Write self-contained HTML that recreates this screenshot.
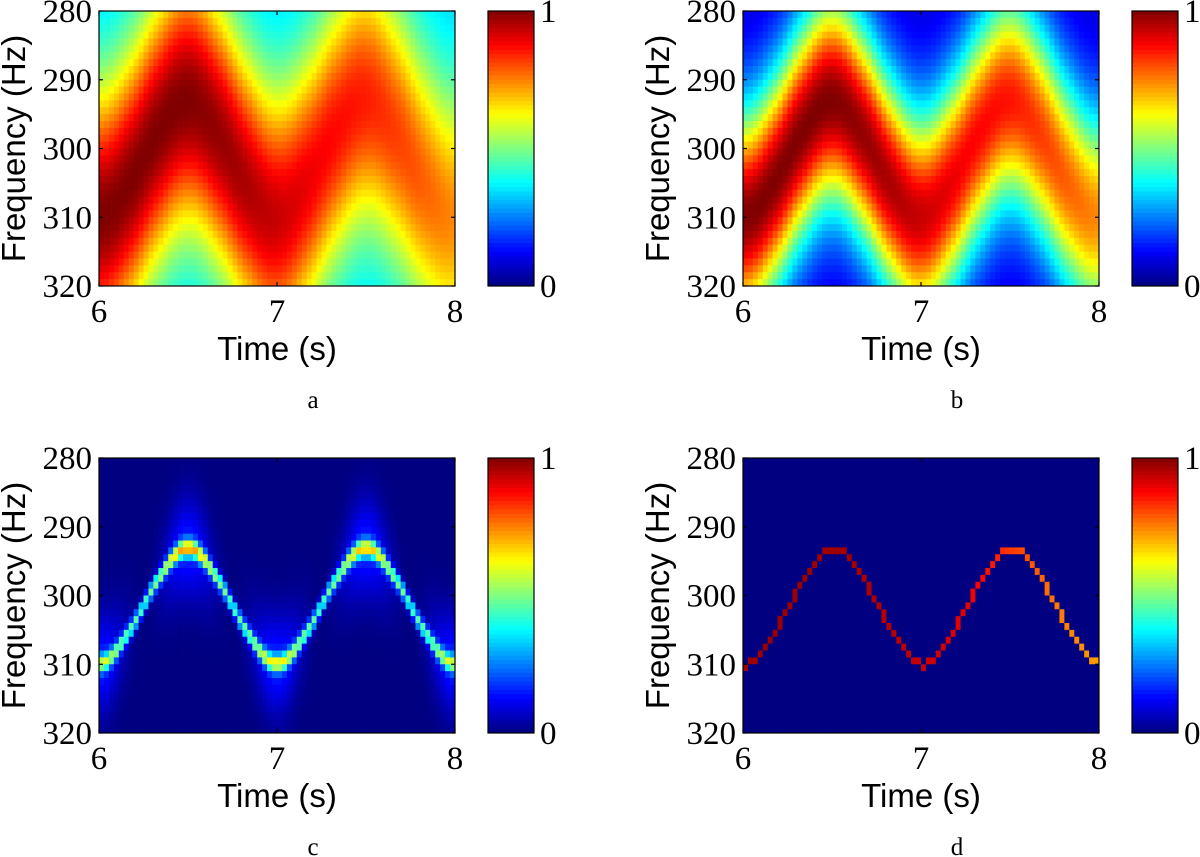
<!DOCTYPE html>
<html><head><meta charset="utf-8">
<style>
html,body{margin:0;padding:0;background:#fff;}
svg{display:block;}
.tk{font-family:"Liberation Serif",serif;font-size:33px;fill:#000;}
.lb{font-family:"Liberation Sans",sans-serif;font-size:33px;fill:#000;}
.cap{font-family:"Liberation Serif",serif;font-size:25px;fill:#000;}
</style></head>
<body>
<svg id="fig" width="1200" height="857" viewBox="0 0 1200 857" xmlns="http://www.w3.org/2000/svg"></svg>
<script>
// ---- data ----
var trackTimes = [6.00,6.05,6.10,6.15,6.20,6.25,6.30,6.35,6.40,6.45,6.50,6.55,6.60,6.65,6.70,6.75,6.80,6.85,6.90,6.95,7.00,7.05,7.10,7.15,7.20,7.25,7.30,7.35,7.40,7.45,7.50,7.55,7.60,7.65,7.70,7.75,7.80,7.85,7.90,7.95,8.00];
var trackFreq = [310,309.5,308,306,304,301.5,299,297,295,293.5,293,293.5,295,297,299,301.5,304,306,308,309.5,310,309.5,308,306,304,301.5,299,297,295,293.5,293,293.5,295,297,299,301.5,304,306,308,309.5,310];
var envTimes = [6.0,6.25,6.5,6.75,7.0,7.25,7.5,7.75,8.0];
var ampA = [1.0,1.0,1.0,0.97,0.93,0.88,0.85,0.8,0.74];
var ampB = [1.0,1.0,1.0,0.97,0.93,0.88,0.86,0.8,0.74];
var ampC = [0.45,0.45,0.6,0.45,0.5,0.45,0.55,0.45,0.45];
var ampD = [0.97,0.97,0.97,0.95,0.93,0.9,0.82,0.76,0.72];
var xTicks = ["6","7","8"];
var xTickVals = [6,7,8];
var yTicks = ["280","290","300","310","320"];
var yTickVals = [280,290,300,310,320];
var cbTicks = ["0","1"];
var panelLetters = ["a","b","c","d"];

var T0=6,T1=8,F0=280,F1=320,NC=72,NR=40;
var NS="http://www.w3.org/2000/svg";
var svg=document.getElementById('fig');
function mk(tag,attrs,parent){var e=document.createElementNS(NS,tag);for(var k in attrs)e.setAttribute(k,attrs[k]);(parent||svg).appendChild(e);return e;}
function interp(xs,ys,x){if(x<=xs[0])return ys[0];for(var i=1;i<xs.length;i++){if(x<=xs[i]){var u=(x-xs[i-1])/(xs[i]-xs[i-1]);return ys[i-1]+u*(ys[i]-ys[i-1]);}}return ys[ys.length-1];}
function jet(v){v=Math.max(0,Math.min(1,v));function c(x){return Math.max(0,Math.min(1,x));}
 var r=c(1.5-Math.abs(4*v-3)),g=c(1.5-Math.abs(4*v-2)),b=c(1.5-Math.abs(4*v-1));
 return 'rgb('+Math.round(r*255)+','+Math.round(g*255)+','+Math.round(b*255)+')';}

var panels=[
 {x:99,y:11,amp:ampA,kind:'a'},
 {x:743,y:11,amp:ampB,kind:'b'},
 {x:99,y:458,amp:ampC,kind:'c'},
 {x:743,y:458,amp:ampD,kind:'d'}];
var W=356,H=275;
var DT=(T1-T0)/NC;

function value(kind,amp,t,f,j){
 var tr=interp(trackTimes,trackFreq,t);var A=interp(envTimes,amp,t);var d=f-tr;
 if(kind==='a'){var base=0.3;return base+(A-base)*Math.exp(-d*d/(2*14*14));}
 if(kind==='b'){var base2=0.08;return base2+(A-base2)*Math.exp(-d*d/(2*11*11));}
 if(kind==='c'){var ridge=A*Math.exp(-d*d/(2*0.85*0.85));
   var ext=Math.abs(tr-301.5)/8.5; var haze=0.16*ext*ext*Math.exp(-d*d/(2*5*5));
   return ridge+haze;}
 // d: continuous stair line, one cell per row crossed in this column
 var a1=interp(trackTimes,trackFreq,t-DT/2),a2=interp(trackTimes,trackFreq,t+DT/2);
 var r1=Math.min(Math.floor(a1-F0),Math.floor(a2-F0)),r2=Math.max(Math.floor(a1-F0),Math.floor(a2-F0));
 if(r2>r1){ if(a1<a2) r2=r2-1; else r1=r1+1; if(r2<r1) r2=r1; }
 return (j>=r1&&j<=r2)?A:0;
}

panels.forEach(function(p,pi){
 var g=mk('g',{});
 
 
 var hm=mk('g',{},g);
 
 
 var cw=W/NC,ch=H/NR;
 for(var i=0;i<NC;i++){
  var t=T0+(i+0.5)*DT;
  for(var j=0;j<NR;j++){
   var f=F0+j+0.5;
   var r=mk('rect',{x:(p.x+i*cw).toFixed(2),y:(p.y+j*ch).toFixed(2),width:(cw+0.4).toFixed(2),height:(ch+0.4).toFixed(2),fill:jet(value(p.kind,p.amp,t,f,j))},hm);
   
   
  }
 }
 var fr=mk('rect',{x:p.x,y:p.y,width:W,height:H,fill:'none',stroke:'#000','stroke-width':1.2},g);
 
 
 function sx(t){return p.x+(t-T0)/(T1-T0)*W;}
 function sy(f){return p.y+(f-F0)/(F1-F0)*H;}
 xTickVals.forEach(function(v,k){
  var X=sx(v);
  mk('line',{x1:X,y1:p.y+H,x2:X,y2:p.y+H-4,stroke:'#000','stroke-width':1.2},g);
  mk('line',{x1:X,y1:p.y,x2:X,y2:p.y+4,stroke:'#000','stroke-width':1.2},g);
  var tx=mk('text',{x:X,y:p.y+H+36,'text-anchor':'middle','class':'tk'},g);
  tx.textContent=xTicks[k];
  
  
 });
 yTickVals.forEach(function(v,k){
  var Y=sy(v);
  mk('line',{x1:p.x,y1:Y,x2:p.x+4,y2:Y,stroke:'#000','stroke-width':1.2},g);
  mk('line',{x1:p.x+W,y1:Y,x2:p.x+W-4,y2:Y,stroke:'#000','stroke-width':1.2},g);
  var tx=mk('text',{x:p.x-7,y:Y+11,'text-anchor':'end','class':'tk'},g);
  tx.textContent=yTicks[k];
  
  
 });
 var xl=mk('text',{x:p.x+W/2,y:p.y+H+74,'text-anchor':'middle','class':'lb'},g);
 xl.textContent='Time (s)';
 
 
 var yl=mk('text',{x:0,y:0,'text-anchor':'middle','class':'lb',transform:'translate('+(p.x-74)+','+(p.y+H/2)+') rotate(-90)'},g);
 yl.textContent='Frequency (Hz)';
 
 
 // colorbar
 var cb=mk('g',{},g);
 
 
 var cx=p.x+389,cwid=46,N=64;
 for(var s=0;s<N;s++){
  mk('rect',{x:cx,y:(p.y+s*H/N).toFixed(2),width:cwid,height:(H/N+0.5).toFixed(2),fill:jet(1-(s+0.5)/N)},cb);
 }
 mk('rect',{x:cx,y:p.y,width:cwid,height:H,fill:'none',stroke:'#000','stroke-width':1.2},cb);
 var c0=mk('text',{x:cx+cwid+6,y:p.y+H+11,'class':'tk'},cb);
 c0.textContent=cbTicks[0];
 
 
 var c1=mk('text',{x:cx+cwid+6,y:p.y+11,'class':'tk'},cb);
 c1.textContent=cbTicks[1];
 
 
 var cap=mk('text',{x:p.x+214,y:p.y+H+122,'text-anchor':'middle','class':'cap'},g);
 cap.textContent=panelLetters[pi];
 
 
});
</script>
</body></html>
